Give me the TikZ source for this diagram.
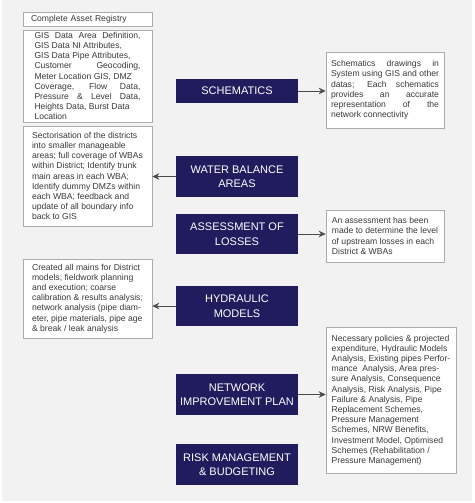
\documentclass[tikz,border=0pt]{standalone}
\usepackage{fontspec}
\setmainfont{Liberation Sans}
\usetikzlibrary{arrows.meta}
\definecolor{navy}{RGB}{33,28,94}
\definecolor{panel}{RGB}{242,242,242}
\definecolor{inkgray}{RGB}{58,58,58}

\begin{document}
\begin{tikzpicture}[
    x=1pt, y=-1pt,
    note/.style={rectangle, draw=gray!65, line width=0.6pt, fill=white, text=inkgray, font=\fontsize{8.6}{10.2}\selectfont, inner ysep=1pt},
    leftnote/.style={note, minimum width=129pt, inner xsep=4pt, align=left},
    rightnote/.style={note, minimum width=118pt, inner xsep=4pt, align=left},
    stage/.style={rectangle, fill=navy, text=white, minimum width=122pt, minimum height=40pt, font=\fontsize{11}{14.5}\selectfont, align=center},
    link/.style={draw=gray!60!black, line width=0.8pt, -{Stealth[length=7pt, width=6.5pt]}}
]

\useasboundingbox[fill=white] (0,0) rectangle (474,503);
\fill[panel] (2,0) rectangle (472,501);

\node[leftnote, text width=113pt, inner xsep=8pt, minimum height=14pt] (registry) at (87.5,19) {Complete Asset Registry};
\node[leftnote, text width=106pt, inner xsep=11.5pt, align=justify, minimum height=92pt] (gisdata) at (87.5,76) {GIS Data Area Definition,\linebreak GIS Data NI Attributes,\\ GIS Data Pipe Attributes,\\ Customer Geocoding,\linebreak Meter Location GIS, DMZ\\ Coverage, Flow Data,\linebreak Pressure \& Level Data,\linebreak Heights Data, Burst Data\\ Location};
\node[leftnote, minimum height=100pt] (sectornote) at (87.5,176) {Sectorisation of the districts\\ into smaller manageable\\ areas; full coverage of WBAs\\ within District; Identify trunk\\ main areas in each WBA;\\ Identify dummy DMZs within\\ each WBA; feedback and\\ update of all boundary info\\ back to GIS};
\node[leftnote, minimum height=79pt] (mainsnote) at (87.5,298.5) {Created all mains for District\\ models; fieldwork planning\\ and execution; coarse\\ calibration \& results analysis;\\ network analysis (pipe diam-\\ eter, pipe materials, pipe age\\ \& break / leak analysis};

\node[stage, minimum height=24pt] (schematics) at (237,91) {SCHEMATICS};
\node[stage, minimum height=41pt] (wba) at (237,176.5) {WATER BALANCE\\ AREAS};
\node[stage] (losses) at (237,234) {ASSESSMENT OF\\ LOSSES};
\node[stage] (hydraulic) at (237,306) {HYDRAULIC\\ MODELS};
\node[stage, minimum height=41pt] (network) at (237,394.5) {NETWORK\\ IMPROVEMENT PLAN};
\node[stage, minimum height=41pt] (risk) at (237,464.5) {RISK MANAGEMENT\\ \& BUDGETING};

\node[rightnote, text width=108pt, inner xsep=5pt, align=justify, minimum height=76pt] (schemnote) at (385,90) {Schematics drawings in\linebreak System using GIS and other\linebreak datas; Each schematics\linebreak provides an accurate\linebreak representation of the\linebreak network connectivity};
\node[rightnote, minimum height=52pt] (lossnote) at (385,236) {An assessment has been\\ made to determine the level\\ of upstream losses in each\\ District \& WBAs};
\node[rightnote, minimum width=130pt, minimum height=146pt] (plannote) at (391,400) {Necessary policies \& projected\\ expenditure, Hydraulic Models\\ Analysis, Existing pipes Perfor-\\ mance\ \ Analysis, Area pres-\\ sure Analysis, Consequence\\ Analysis, Risk Analysis, Pipe\\ Failure \& Analysis, Pipe\\ Replacement Schemes,\\ Pressure Management\\ Schemes, NRW Benefits,\\ Investment Model, Optimised\\ Schemes (Rehabilitation /\\ Pressure Management)};

\draw[link] (schematics.east) -- (schemnote.west |- schematics.east);
\draw[link] (wba.west) -- (sectornote.east |- wba.west);
\draw[link] (losses.east) -- (lossnote.west |- losses.east);
\draw[link] (hydraulic.west) -- (mainsnote.east |- hydraulic.west);
\draw[link] (network.east) -- (plannote.west |- network.east);

\end{tikzpicture}
\end{document}
